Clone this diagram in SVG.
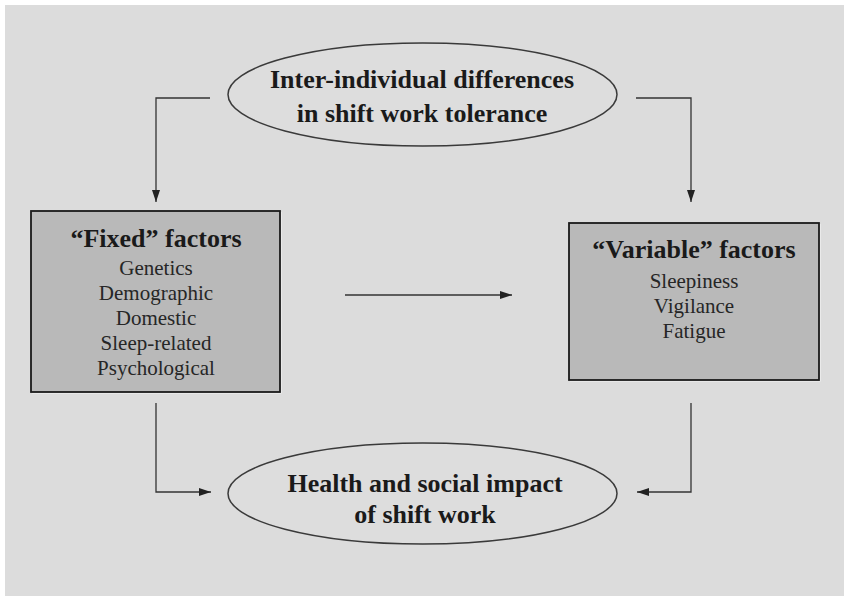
<svg xmlns="http://www.w3.org/2000/svg" width="850" height="602" viewBox="0 0 850 602">
<style>
.bg{fill:#dcdcdc}
.ell{fill:#dddddd;stroke:#3a3a3a;stroke-width:1.5}
.box{fill:#b9b9b9;stroke:#1a1a1a;stroke-width:1.8}
.hl{fill:none;stroke:#f4f4f4;stroke-width:1.2}
.conn{fill:none;stroke:#333;stroke-width:1.3}
.t{font-family:"Liberation Serif","Times New Roman",serif;fill:#1a1a1a;text-anchor:middle}
.h{font-size:26px;font-weight:bold}
.i{font-size:21px;fill:#262626}
</style>
<defs>
<marker id="ah" viewBox="0 0 12 8" refX="12" refY="4" markerWidth="12" markerHeight="8" markerUnits="userSpaceOnUse" orient="auto">
<path d="M0,0 L12,4 L0,8 Z" fill="#222"/>
</marker>
</defs>
<rect x="0" y="0" width="850" height="602" fill="#ffffff"/>
<rect class="bg" x="5" y="5" width="839" height="591"/>
<g id="top">
<ellipse class="ell" cx="422.5" cy="94.5" rx="194.5" ry="51.5"/>
<text class="t h" x="422" y="88">Inter-individual differences</text>
<text class="t h" x="422" y="122">in shift work tolerance</text>
</g>
<g id="fixed">
<polyline class="hl" points="32,393 281,393 281,212"/>
<rect class="box" x="31" y="211" width="249" height="181"/>
<text class="t h" x="156" y="247">“Fixed” factors</text>
<text class="t i" x="156" y="275">Genetics</text>
<text class="t i" x="156" y="300">Demographic</text>
<text class="t i" x="156" y="325">Domestic</text>
<text class="t i" x="156" y="350">Sleep-related</text>
<text class="t i" x="156" y="375">Psychological</text>
</g>
<g id="variable">
<polyline class="hl" points="570,381 820,381 820,224"/>
<rect class="box" x="569" y="223" width="250" height="157"/>
<text class="t h" x="694" y="258">“Variable” factors</text>
<text class="t i" x="694" y="288">Sleepiness</text>
<text class="t i" x="694" y="313">Vigilance</text>
<text class="t i" x="694" y="338">Fatigue</text>
</g>
<g id="bottom">
<ellipse class="ell" cx="422.5" cy="493.5" rx="194.5" ry="50.5"/>
<text class="t h" x="425" y="492">Health and social impact</text>
<text class="t h" x="425" y="523">of shift work</text>
</g>
<g id="connectors">
<polyline class="conn" points="210,98 156,98 156,202" marker-end="url(#ah)"/>
<polyline class="conn" points="636,98 691,98 691,202" marker-end="url(#ah)"/>
<line class="conn" x1="345" y1="295" x2="512" y2="295" marker-end="url(#ah)"/>
<polyline class="conn" points="156,403 156,492 211,492" marker-end="url(#ah)"/>
<polyline class="conn" points="691,403 691,492 637,492" marker-end="url(#ah)"/>
</g>
</svg>
